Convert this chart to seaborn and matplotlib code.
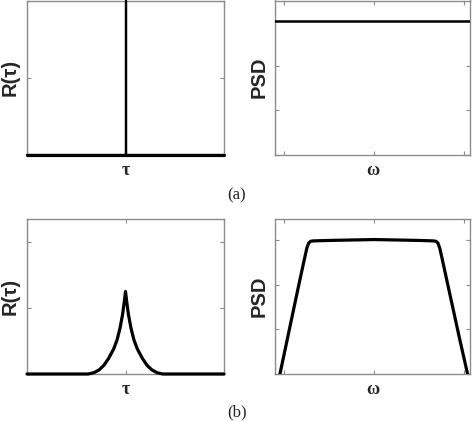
import numpy as np
import pandas as pd
import matplotlib
matplotlib.use("Agg")
import matplotlib.pyplot as plt
import seaborn as sns

sns.set_theme(style="white")
plt.rcParams['font.family'] = ['Liberation Sans', 'DejaVu Sans']

# (a) white noise: delta autocorrelation, flat PSD
tau_a = [-1.0, 0.0, 0.0, 0.0, 1.0]
r_a = [0.0, 0.0, 2.0, 0.0, 0.0]
omega_a = [-1.105, 1.067]
psd_a = [3.0, 3.0]

# (b) coloured noise: narrow peaked autocorrelation, band-limited PSD
tau_b = [-1.0, -0.38, -0.32, -0.27, -0.22, -0.17, -0.12, -0.085, -0.055, -0.030, -0.012, 0.0,
         0.012, 0.030, 0.055, 0.085, 0.12, 0.17, 0.22, 0.27, 0.32, 0.38, 1.0]
r_b = [0.0, 0.0, 0.02, 0.06, 0.13, 0.24, 0.38, 0.52, 0.70, 0.90, 1.10, 1.25,
       1.10, 0.90, 0.70, 0.52, 0.38, 0.24, 0.13, 0.06, 0.02, 0.0, 0.0]
omega_b = [-1.05, -0.95, -0.85, -0.78, -0.75, -0.73, -0.71, -0.68, -0.5, -0.25, 0.0,
           0.25, 0.5, 0.66, 0.69, 0.71, 0.73, 0.76, 0.85, 0.95, 1.04]
psd_b = [0.0, 0.95, 1.90, 2.55, 2.82, 2.93, 2.97, 2.98, 2.99, 3.00, 3.01,
         3.00, 2.99, 2.98, 2.97, 2.93, 2.82, 2.55, 1.72, 0.80, 0.0]

grey = '#8c8c8c'
W, H = 474, 422


def make_ax(fig, left, top, right, bottom):
    return fig.add_axes([left / W, 1 - bottom / H, (right - left) / W, (bottom - top) / H])


def style_ax(ax, xlim, ylim, xticks, yticks, xlab, ylab, ylab_x):
    ax.set_xlim(xlim)
    ax.set_ylim(ylim)
    ax.set_xticks(xticks)
    ax.set_yticks(yticks)
    ax.set_xticklabels([])
    ax.set_yticklabels([])
    ax.tick_params(direction='in', length=3, width=0.8, color=grey,
                   top=True, right=True, bottom=True, left=True)
    for s in ax.spines.values():
        s.set_color(grey)
        s.set_linewidth(1.0)
    ax.set_ylabel(ylab, fontsize=14.5, fontweight='bold')
    ax.yaxis.set_label_coords(ylab_x, 0.5)
    ax.set_xlabel(xlab, fontsize=13, fontweight='bold', family=['Liberation Serif', 'DejaVu Serif'])
    ax.xaxis.set_label_coords(0.5, -0.045)
    ax.set_facecolor('white')


fig = plt.figure(figsize=(4.74, 4.22), dpi=100)

ax1 = make_ax(fig, 27, 0.5, 224, 155)
ax2 = make_ax(fig, 275, 0.5, 470, 155)
ax3 = make_ax(fig, 27, 219, 224, 374)
ax4 = make_ax(fig, 275, 219, 470, 374)

sns.lineplot(x=tau_a, y=r_a, ax=ax1, color='black', linewidth=1.6, estimator=None, sort=False)
sns.lineplot(x=omega_a, y=psd_a, ax=ax2, color='black', linewidth=1.8, estimator=None, sort=False)
sns.lineplot(x=tau_b, y=r_b, ax=ax3, color='black', linewidth=2.3, estimator=None, sort=False)
sns.lineplot(x=omega_b, y=psd_b, ax=ax4, color='black', linewidth=2.3, estimator=None, sort=False)

for ax in (ax1, ax3):
    for ln in ax.lines:
        ln.set_clip_on(False)
for ax in (ax1, ax2, ax3, ax4):
    for ln in ax.lines:
        ln.set_zorder(3)
# thicker baseline in (a) left, drawn from the same data
sns.lineplot(x=[tau_a[0], tau_a[-1]], y=[r_a[0], r_a[-1]], ax=ax1, color='black',
             linewidth=2.3, estimator=None, sort=False)
ax1.lines[-1].set_clip_on(False)
ax1.lines[-1].set_zorder(3)

style_ax(ax1, (-1, 1), (0, 2), [-1, 0, 1], [0, 1, 2], 'τ', 'R(τ)', -0.035)
style_ax(ax2, (-1.105, 1.067), (0, 3.47), [-1, 0, 1], [0, 1, 2, 3], 'ω', 'PSD', -0.032)
style_ax(ax3, (-1, 1), (0, 2.35), [-1, 0, 1], [0, 1, 2], 'τ', 'R(τ)', -0.035)
style_ax(ax4, (-1.105, 1.067), (0, 3.47), [-1, 0, 1], [0, 1, 2, 3], 'ω', 'PSD', -0.032)

serif = ['Liberation Serif', 'DejaVu Serif']
fig.text(237 / W, 1 - 195 / H, '(a)', ha='center', va='center', fontsize=12, family=serif)
fig.text(237 / W, 1 - 412 / H, '(b)', ha='center', va='center', fontsize=12, family=serif)

fig.savefig('out.png', dpi=100, facecolor='white')
